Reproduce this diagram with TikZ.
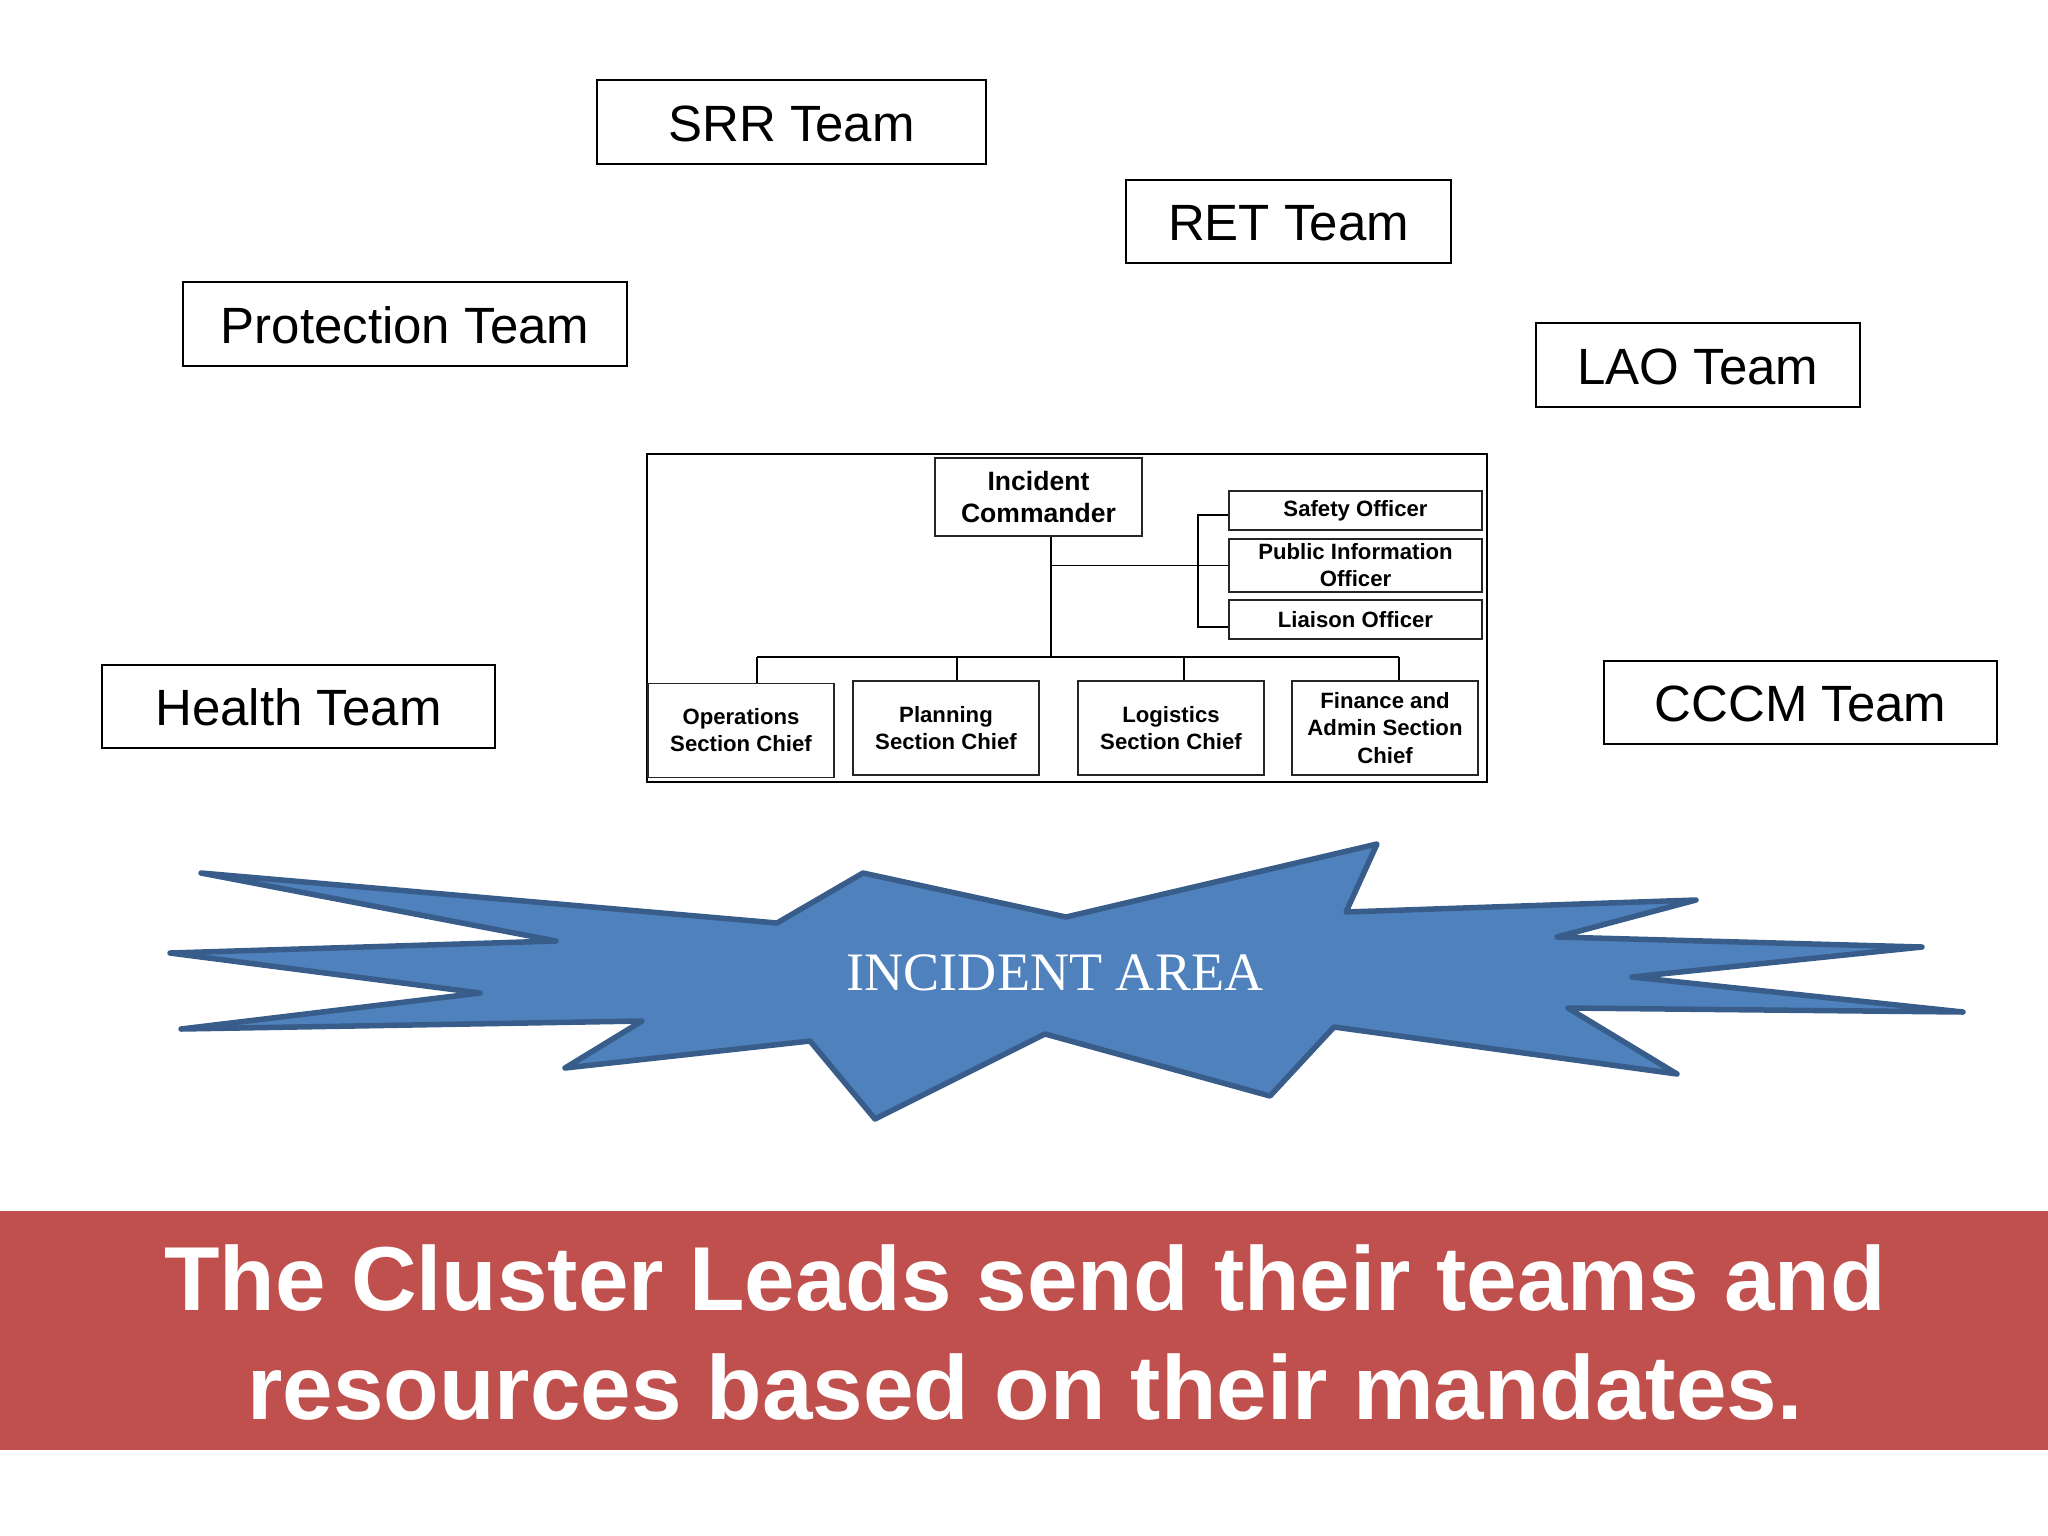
\documentclass[tikz,border=0pt]{standalone}
\usepackage{fontspec}
\setmainfont{Liberation Sans}
\newfontfamily\areafont{Liberation Serif}
\usetikzlibrary{calc}
\definecolor{starblue}{HTML}{4F81BD}
\definecolor{stardark}{HTML}{385D8A}
\definecolor{bannerred}{HTML}{C0504D}
\tikzset{
    teambox/.style={
        draw=black,
        line width=0.02cm,
        inner sep=0,
        minimum height=0.83cm,
        text height=0.385cm,
        text depth=0cm,
        align=center,
        font=\fontsize{14.5}{17}\selectfont
    },
    orgbox/.style={
        draw=black!85,
        line width=0.016cm,
        inner sep=0,
        align=center,
        font=\bfseries\fontsize{6.3}{7.7}\selectfont
    },
    chiefbox/.style={
        orgbox,
        minimum width=1.86cm,
        minimum height=0.94cm
    },
    staffbox/.style={
        orgbox,
        minimum width=2.53cm,
        minimum height=0.39cm
    },
    orgline/.style={
        draw=black,
        line width=0.018cm
    }
}

\begin{document}
\begin{tikzpicture}[x=0.01cm, y=-0.01cm]

\useasboundingbox (0,0) rectangle (2048,1536);

% banner
\fill[bannerred] (0,1211) rectangle (2048,1450);
\node[text=white, align=center, inner sep=0,
      font=\bfseries\fontsize{25.83}{31}\selectfont] (banner) at (1025,1333)
      {The Cluster Leads send their teams and\\resources based on their mandates.};

% teams
\node[teambox, minimum width=3.89cm] (srr) at (791.5,122) {SRR Team};
\node[teambox, minimum width=3.25cm] (ret) at (1288.5,221.5) {RET Team};
\node[teambox, minimum width=4.44cm] (protection) at (405,324) {Protection Team};
\node[teambox, minimum width=3.24cm] (lao) at (1698,365) {LAO Team};
\node[teambox, minimum width=3.93cm] (health) at (298.5,706.5) {Health Team};
\node[teambox, minimum width=3.93cm] (cccm) at (1800.5,702.5) {CCCM Team};

% org chart
\node[draw=black, line width=0.024cm, inner sep=0,
      minimum width=8.4cm, minimum height=3.28cm] (frame) at (1067,618) {};

\node[orgbox, minimum width=2.07cm, minimum height=0.78cm,
      font=\bfseries\fontsize{7.55}{9}\selectfont] (commander) at (1038.5,497)
      {Incident\\Commander};
\node[staffbox] (safety) at (1355.5,510.5) {Safety Officer};
\node[staffbox, minimum height=0.53cm] (public) at (1355.5,565.5) {Public Information\\Officer};
\node[staffbox] (liaison) at (1355.5,619.5) {Liaison Officer};

\node[chiefbox] (operations) at (741,730.5) {Operations\\Section Chief};
\node[chiefbox] (planning) at (946,728) {Planning\\Section Chief};
\node[chiefbox] (logistics) at (1171,728) {Logistics\\Section Chief};
\node[chiefbox] (finance) at (1385,728) {Finance and\\Admin Section\\Chief};

\coordinate (BusL) at (757,657);
\coordinate (Trunk) at (1051,657);
\coordinate (BusP) at (957,657);
\coordinate (BusG) at (1184,657);
\coordinate (BusR) at (1399,657);
\coordinate (BrkT) at (1198,515);
\coordinate (BrkB) at (1198,627);

\draw[orgline] (commander.south -| Trunk) -- (Trunk);
\draw[orgline] (public.west) -- (public.west -| Trunk);
\draw[orgline] (safety.west |- BrkT) -- (BrkT) -- (BrkB) -- (liaison.west |- BrkB);
\draw[orgline] (BusL) -- (BusR);
\draw[orgline] (BusL) -- (operations.north -| BusL);
\draw[orgline] (BusP) -- (planning.north -| BusP);
\draw[orgline] (BusG) -- (logistics.north -| BusG);
\draw[orgline] (BusR) -- (finance.north -| BusR);

% star
\draw[fill=starblue, draw=stardark, line width=0.055cm, line join=round]
    (201,873) -- (777,923) -- (863,873) -- (1066,917) -- (1377,844) -- (1346,912)
    -- (1696,900) -- (1557,937) -- (1922,947) -- (1632,977) -- (1963,1012)
    -- (1568,1008) -- (1677,1074) -- (1334,1027) -- (1270,1096) -- (1045,1034)
    -- (875,1119) -- (810,1041) -- (565,1068) -- (642,1021) -- (181,1029)
    -- (480,993) -- (170,953) -- (556,941) -- cycle;
\node[text=white, inner sep=0, font=\areafont\fontsize{15.4}{18}\selectfont] (area) at (1055,973) {INCIDENT AREA};

\end{tikzpicture}
\end{document}
